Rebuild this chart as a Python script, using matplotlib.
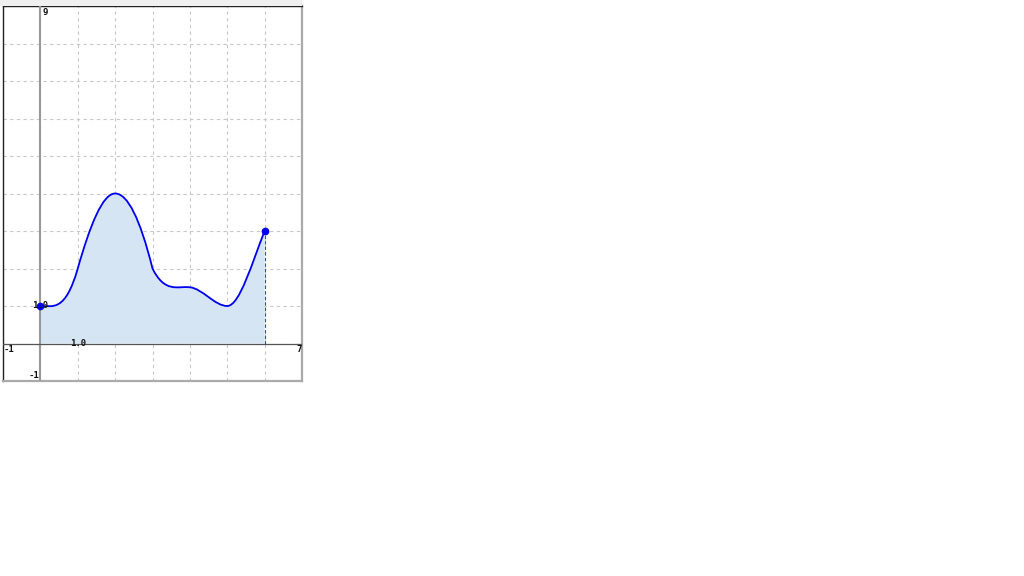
import numpy as np
import matplotlib
matplotlib.use("Agg")
import matplotlib.pyplot as plt
from matplotlib.path import Path
from matplotlib.patches import PathPatch, Rectangle

# knots of the curve and the slopes
x_pts = [0, 1, 2, 3, 4, 5, 6]
y_pts = [1, 2, 4, 2, 1.5, 1, 3]
slope_in = [0, 3.5, 0, -4, -0.1, 0, 2.5]
slope_out = [0, 3.5, 0, -2, -0.1, 0, 2.5]

x_range = (-1, 7)
y_range = (-1, 9)

fig = plt.figure(figsize=(10.24, 5.76), dpi=100)
W, H = 1024, 576
# light strip above the widget
fig.patches.append(Rectangle((0, (H - 6) / H), 302 / W, 6 / H, transform=fig.transFigure,
                             facecolor='#f0f0f0', edgecolor='none'))
ax = fig.add_axes([3 / W, (H - 381) / H, 299 / W, 375 / H])
ax.set_xlim(*x_range)
ax.set_ylim(*y_range)

ax.set_xticks(range(x_range[0], x_range[1] + 1))
ax.set_yticks(range(y_range[0], y_range[1] + 1))
ax.grid(True, color='#c8c8c8', linestyle=(0, (3, 3)), linewidth=0.8)
ax.tick_params(length=0, labelbottom=False, labelleft=False)

for s in ['left', 'top']:
    ax.spines[s].set_color('#222222')
    ax.spines[s].set_linewidth(1.0)
for s in ['right', 'bottom']:
    ax.spines[s].set_color('#aaaaaa')
    ax.spines[s].set_linewidth(1.6)

ax.axvline(0, color='#999999', linewidth=1.5, zorder=3)
ax.axhline(0, color='#555555', linewidth=0.9, zorder=3)

# bezier path through the knots
verts = [(x_pts[0], y_pts[0])]
codes = [Path.MOVETO]
for i in range(len(x_pts) - 1):
    h = x_pts[i + 1] - x_pts[i]
    verts += [(x_pts[i] + h / 3, y_pts[i] + slope_out[i] * h / 3),
              (x_pts[i + 1] - h / 3, y_pts[i + 1] - slope_in[i + 1] * h / 3),
              (x_pts[i + 1], y_pts[i + 1])]
    codes += [Path.CURVE4] * 3

fill_verts = [(x_pts[0], 0)] + verts + [(x_pts[-1], 0), (x_pts[0], 0)]
fill_codes = [Path.MOVETO, Path.LINETO] + codes[1:] + [Path.LINETO, Path.CLOSEPOLY]
ax.add_patch(PathPatch(Path(fill_verts, fill_codes), facecolor='#d5e5f4',
                       edgecolor='none', zorder=2))
ax.add_patch(PathPatch(Path(verts, codes), facecolor='none', edgecolor='#0000ee',
                       linewidth=1.3, zorder=4))

ax.plot([x_pts[-1], x_pts[-1]], [0, y_pts[-1]], color='#3344dd', linewidth=0.8,
        linestyle=(0, (3, 2)), zorder=3)
ax.plot([x_pts[0], x_pts[-1]], [y_pts[0], y_pts[-1]], 'o', color='#0000ee',
        markersize=4.5, zorder=5, linestyle='none')

lab = dict(fontsize=6.5, fontweight='bold', family='DejaVu Sans Mono', color='#111111', zorder=6)
ax.text(0.05, 8.95, '9', ha='left', va='top', **lab)
ax.text(0, 1, '1.0', ha='center', va='center', **lab)
ax.text(-0.03, -0.97, '-1', ha='right', va='bottom', **lab)
ax.text(-0.98, -0.05, '-1', ha='left', va='top', **lab)
ax.text(1, 0.0, '1.0', ha='center', va='center', **lab)
ax.text(6.98, -0.05, '7', ha='right', va='top', **lab)

fig.savefig('out.png', dpi=100)
